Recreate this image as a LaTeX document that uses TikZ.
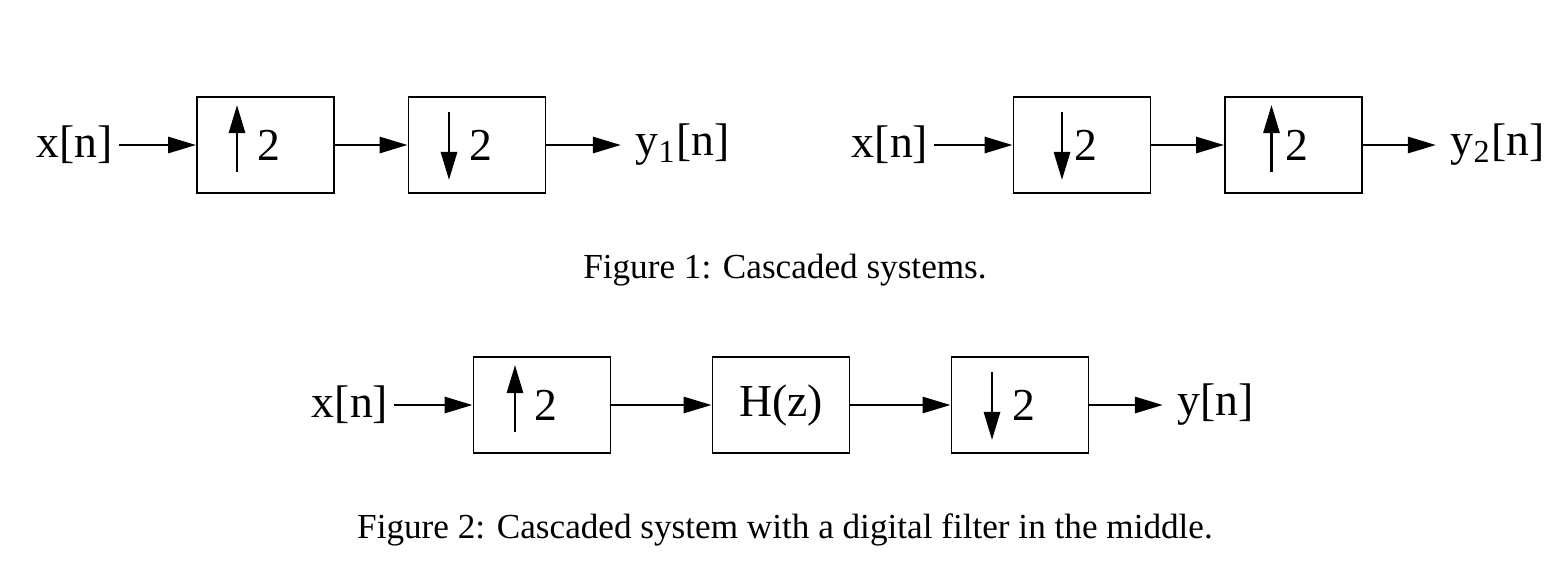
\documentclass[tikz,border=0pt]{standalone}
\usepackage{fontspec}
\setmainfont{Liberation Serif}
\usetikzlibrary{arrows.meta}
\begin{document}
\begin{tikzpicture}[x=0.01cm,y=-0.01cm,
  blk/.style={draw,line width=0.5pt,minimum width=1.37cm,minimum height=0.96cm,inner sep=0},
  lbl/.style={font=\fontsize{13}{13}\selectfont,inner sep=0},
  arr/.style={line width=0.8pt,-{Triangle[length=0.28cm,width=0.16cm]}},
  figcap/.style={font=\fontsize{10}{10}\selectfont,inner sep=0}]
\useasboundingbox (0,0) rectangle (1566,578);
% row 1 left
\node[lbl] (xa) at (75,145) {x[n]};
\node[blk] (a1) at (265.5,145) {};
\node[blk] (a2) at (477,145) {};
\node[lbl,anchor=west] (ya) at (635,145) {y\textsubscript{1}[n]};
\draw[arr] ([xshift=1.5pt]xa.east) -- (a1.west);
\draw[arr] (a1.east) -- (a2.west);
\draw[arr] (a2.east) -- ([xshift=-4pt]ya.west);
\draw[arr] ([shift={(-28.5,27)}]a1.center) -- ([shift={(-28.5,-40)}]a1.center);
\node[lbl] at ([xshift=1pt]a1.center) {2};
\draw[arr] ([shift={(-28,-33)}]a2.center) -- ([shift={(-28,35)}]a2.center);
\node[lbl] at ([xshift=1pt]a2.center) {2};
% row 1 right
\node[lbl] (xb) at (890,145) {x[n]};
\node[blk] (b1) at (1082,145) {};
\node[blk] (b2) at (1293.5,145) {};
\node[lbl,anchor=west] (yb) at (1450,145) {y\textsubscript{2}[n]};
\draw[arr] ([xshift=1.5pt]xb.east) -- (b1.west);
\draw[arr] (b1.east) -- (b2.west);
\draw[arr] (b2.east) -- ([xshift=-4pt]yb.west);
\draw[arr] ([shift={(-20,-33)}]b1.center) -- ([shift={(-20,35)}]b1.center);
\node[lbl] at ([xshift=1pt]b1.center) {2};
\draw[arr] ([shift={(-22,27)}]b2.center) -- ([shift={(-22,-40)}]b2.center);
\node[lbl] at ([xshift=1pt]b2.center) {2};
\node[figcap] (c1) at (785,270) {Figure 1: Cascaded systems.};
% row 2
\node[lbl] (xc) at (350,405) {x[n]};
\node[blk] (c2) at (542,405) {};
\node[blk] (h) at (781,405) {};
\node[lbl] at (h.center) {H(z)};
\node[blk] (c3) at (1020,405) {};
\node[lbl,anchor=west] (yc) at (1177,405) {y[n]};
\draw[arr] ([xshift=1.5pt]xc.east) -- (c2.west);
\draw[arr] (c2.east) -- (h.west);
\draw[arr] (h.east) -- (c3.west);
\draw[arr] (c3.east) -- ([xshift=-4pt]yc.west);
\draw[arr] ([shift={(-27,27)}]c2.center) -- ([shift={(-27,-40)}]c2.center);
\node[lbl] at ([xshift=1pt]c2.center) {2};
\draw[arr] ([shift={(-28,-33)}]c3.center) -- ([shift={(-28,35)}]c3.center);
\node[lbl] at ([xshift=1pt]c3.center) {2};
\node[figcap] (c2cap) at (785,530) {Figure 2: Cascaded system with a digital filter in the middle.};
\end{tikzpicture}
\end{document}
